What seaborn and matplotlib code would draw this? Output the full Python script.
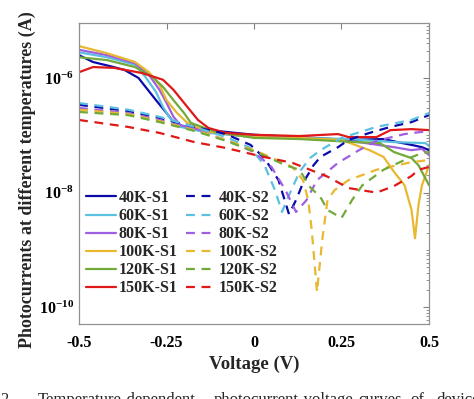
"""
plot.py
-------
Temperature-dependent photocurrent-voltage curves (S1 solid, S2 dashed).
Saves out.png.
"""

import matplotlib.pyplot as plt
import matplotlib.ticker as mticker
import seaborn as sns

# ---- data (voltage in V, current in A) ----
temps = ["40K", "60K", "80K", "100K", "120K", "150K"]
colors = ["#0a0aa8", "#5cc0e0", "#a05ee0", "#e8b830", "#72aa3a", "#e01818"]

# S1 (solid)
v_s1_40 = [-0.5, -0.46, -0.41, -0.37, -0.33, -0.31, -0.28, -0.25, -0.23, -0.2, -0.13, 0.0, 0.13, 0.27, 0.37, 0.41, 0.45, 0.48, 0.5]
i_s1_40 = [2.5e-6, 1.9e-6, 1.6e-6, 1.38e-6, 1.0e-6, 7.0e-7, 4.1e-7, 2.45e-7, 1.7e-7, 1.4e-7, 1.23e-7, 1.02e-7, 9.3e-8, 8.3e-8, 8.6e-8, 7.6e-8, 6.8e-8, 6.2e-8, 5.5e-8]

v_s1_60 = [-0.5, -0.42, -0.34, -0.31, -0.28, -0.26, -0.24, -0.21, -0.13, 0.0, 0.13, 0.27, 0.4, 0.49, 0.5]
i_s1_60 = [2.8e-6, 2.3e-6, 1.7e-6, 1.04e-6, 5.7e-7, 3.1e-7, 2.0e-7, 1.4e-7, 1.1e-7, 9.3e-8, 9.0e-8, 8.6e-8, 7.6e-8, 7.3e-8, 6.5e-8]

v_s1_80 = [-0.5, -0.42, -0.34, -0.3, -0.27, -0.25, -0.23, -0.21, -0.13, 0.0, 0.13, 0.3, 0.4, 0.45, 0.48, 0.5]
i_s1_80 = [3.1e-6, 2.5e-6, 1.8e-6, 1.13e-6, 6.2e-7, 3.7e-7, 2.1e-7, 1.5e-7, 1.15e-7, 9.3e-8, 9.0e-8, 7.6e-8, 6.2e-8, 5.5e-8, 5.8e-8, 4.5e-8]

v_s1_100 = [-0.5, -0.42, -0.34, -0.3, -0.27, -0.25, -0.22, -0.19, -0.13, 0.0, 0.13, 0.25, 0.33, 0.37, 0.4, 0.43, 0.45, 0.46, 0.47, 0.48, 0.5]
i_s1_100 = [3.6e-6, 2.7e-6, 1.9e-6, 1.26e-6, 7.6e-7, 4.1e-7, 2.45e-7, 1.64e-7, 1.15e-7, 9.3e-8, 9.0e-8, 8.3e-8, 5.5e-8, 4.2e-8, 2.3e-8, 1.35e-8, 5.0e-9, 1.6e-9, 6.1e-9, 1.35e-8, 3.0e-8]

v_s1_120 = [-0.5, -0.42, -0.34, -0.29, -0.26, -0.23, -0.2, -0.18, -0.11, 0.0, 0.13, 0.29, 0.36, 0.4, 0.45, 0.47, 0.5]
i_s1_120 = [2.3e-6, 2.05e-6, 1.55e-6, 1.04e-6, 7.0e-7, 4.1e-7, 2.45e-7, 1.64e-7, 1.15e-7, 9.0e-8, 8.6e-8, 7.6e-8, 7.3e-8, 5.1e-8, 4.0e-8, 3.0e-8, 1.35e-8]

v_s1_150 = [-0.5, -0.46, -0.4, -0.32, -0.26, -0.23, -0.19, -0.16, -0.13, -0.08, 0.0, 0.13, 0.24, 0.27, 0.35, 0.39, 0.45, 0.5]
i_s1_150 = [1.26e-6, 1.55e-6, 1.5e-6, 1.22e-6, 9.3e-7, 6.2e-7, 3.1e-7, 1.85e-7, 1.34e-7, 1.1e-7, 1.02e-7, 9.7e-8, 1.05e-7, 9.3e-8, 9.3e-8, 1.23e-7, 1.28e-7, 1.23e-7]

# S2 (dashed)
v_s2_40 = [-0.5, -0.36, -0.27, -0.17, -0.08, -0.01, 0.03, 0.07, 0.1, 0.12, 0.14, 0.17, 0.19, 0.24, 0.27, 0.33, 0.39, 0.45, 0.5]
i_s2_40 = [3.4e-7, 2.65e-7, 2.0e-7, 1.4e-7, 1.05e-7, 6.8e-8, 4.0e-8, 1.65e-8, 4.2e-9, 7.4e-9, 1.47e-8, 3.0e-8, 4.2e-8, 6.2e-8, 8.3e-8, 1.1e-7, 1.4e-7, 1.7e-7, 2.25e-7]

v_s2_60 = [-0.5, -0.36, -0.27, -0.17, -0.08, -0.01, 0.03, 0.06, 0.08, 0.1, 0.13, 0.16, 0.19, 0.25, 0.35, 0.45, 0.5]
i_s2_60 = [3.65e-7, 2.8e-7, 2.1e-7, 1.4e-7, 9.3e-8, 6.0e-8, 3.0e-8, 1.1e-8, 4.6e-9, 9.0e-9, 2.3e-8, 4.0e-8, 5.5e-8, 9.0e-8, 1.4e-7, 1.85e-7, 2.45e-7]

v_s2_80 = [-0.5, -0.36, -0.27, -0.17, -0.08, 0.0, 0.05, 0.09, 0.12, 0.15, 0.18, 0.24, 0.3, 0.35, 0.43, 0.5]
i_s2_80 = [3.0e-7, 2.45e-7, 1.85e-7, 1.23e-7, 8.3e-8, 5.1e-8, 2.8e-8, 1.1e-8, 4.6e-9, 7.4e-9, 1.65e-8, 3.3e-8, 5.5e-8, 8.0e-8, 1.05e-7, 1.19e-7]

v_s2_100 = [-0.5, -0.36, -0.27, -0.17, -0.08, 0.02, 0.11, 0.14, 0.155, 0.165, 0.18, 0.195, 0.21, 0.23, 0.27, 0.35, 0.45, 0.5]
i_s2_100 = [2.8e-7, 2.35e-7, 1.77e-7, 1.23e-7, 8.3e-8, 4.9e-8, 2.8e-8, 1.65e-8, 7.4e-9, 2.2e-9, 1.85e-10, 1.5e-9, 7.4e-9, 1.1e-8, 1.65e-8, 2.5e-8, 3.4e-8, 3.7e-8]

v_s2_120 = [-0.5, -0.36, -0.27, -0.17, -0.08, 0.02, 0.09, 0.13, 0.16, 0.19, 0.21, 0.25, 0.28, 0.31, 0.37, 0.43, 0.48, 0.5]
i_s2_120 = [2.55e-7, 2.25e-7, 1.7e-7, 1.19e-7, 8.0e-8, 4.7e-8, 3.0e-8, 2.5e-8, 1.25e-8, 8.3e-9, 5.0e-9, 3.6e-9, 7.4e-9, 1.35e-8, 2.5e-8, 3.7e-8, 4.9e-8, 5.1e-8]

v_s2_150 = [-0.5, -0.36, -0.27, -0.17, -0.08, 0.02, 0.11, 0.21, 0.27, 0.35, 0.4, 0.45, 0.47, 0.5]
i_s2_150 = [1.85e-7, 1.4e-7, 1.1e-7, 7.6e-8, 6.0e-8, 4.3e-8, 3.3e-8, 1.9e-8, 1.2e-8, 1.0e-8, 1.3e-8, 1.95e-8, 2.5e-8, 2.8e-8]

s1_curves = [(v_s1_40, i_s1_40), (v_s1_60, i_s1_60), (v_s1_80, i_s1_80),
             (v_s1_100, i_s1_100), (v_s1_120, i_s1_120), (v_s1_150, i_s1_150)]
s2_curves = [(v_s2_40, i_s2_40), (v_s2_60, i_s2_60), (v_s2_80, i_s2_80),
             (v_s2_100, i_s2_100), (v_s2_120, i_s2_120), (v_s2_150, i_s2_150)]

x_ticks = [-0.5, -0.25, 0, 0.25, 0.5]
x_tick_labels = ["-0.5", "-0.25", "0", "0.25", "0.5"]
y_ticks = [1e-10, 1e-8, 1e-6]
y_tick_labels = [r"$\mathbf{10^{-10}}$", r"$\mathbf{10^{-8}}$", r"$\mathbf{10^{-6}}$"]

# ---- style ----
sns.set_style("white")
plt.rcParams["font.family"] = ["Liberation Serif", "DejaVu Serif"]
plt.rcParams["font.weight"] = "bold"
plt.rcParams["mathtext.fontset"] = "custom"
plt.rcParams["mathtext.rm"] = "Liberation Serif"
plt.rcParams["mathtext.bf"] = "Liberation Serif:bold"

fig = plt.figure(figsize=(4.74, 3.99), dpi=100)
ax = fig.add_axes([79 / 474, 1 - 324 / 399, 350 / 474, 301 / 399])

for (v, i), t, c in zip(s1_curves, temps, colors):
    sns.lineplot(x=v, y=i, ax=ax, color=c, linewidth=1.6, sort=False,
                 estimator=None, label=f"{t}-S1")
for (v, i), t, c in zip(s2_curves, temps, colors):
    sns.lineplot(x=v, y=i, ax=ax, color=c, linewidth=1.6, sort=False,
                 estimator=None, linestyle=(0, (4, 3)), label=f"{t}-S2")

ax.set_yscale("log")
ax.set_xlim(-0.5, 0.5)
ax.set_ylim(5.1e-11, 9.1e-6)

ax.set_xticks(x_ticks)
ax.set_xticklabels(x_tick_labels)
ax.yaxis.set_major_locator(mticker.FixedLocator(y_ticks))
ax.yaxis.set_major_formatter(mticker.FixedFormatter(y_tick_labels))
ax.yaxis.set_minor_locator(mticker.LogLocator(base=10, subs=range(1, 10), numticks=30))
ax.yaxis.set_minor_formatter(mticker.NullFormatter())

ax.tick_params(which="both", direction="in", top=True, right=True,
               colors="#808080", labelcolor="black", labelsize=11.5)
ax.tick_params(which="major", length=4, width=0.8)
ax.tick_params(axis="x", pad=8)
ax.tick_params(which="minor", length=2, width=0.6)
for s in ax.spines.values():
    s.set_color("#909090")
    s.set_linewidth(0.9)

ax.set_xlabel("Voltage (V)", fontsize=13.5, fontweight="bold", labelpad=3)
ax.set_ylabel("Photocurrents at different temperatures (A)", fontsize=13,
              fontweight="bold", labelpad=2)
ax.yaxis.label.set_y(0.48)

ax.legend(ncol=2, frameon=False, loc="upper left",
          bbox_to_anchor=(0.02, 0.445), fontsize=11.5, handlelength=1.9,
          handletextpad=0.15, columnspacing=0.5, labelspacing=0.13,
          borderpad=0, borderaxespad=0)

# cropped caption below the chart (only its top edge shows)
caption_words = ["2", "Temperature-dependent", "photocurrent-voltage", "curves", "of", "devices"]
caption_x = [0, 38, 214, 358, 410, 436]
for w, xp in zip(caption_words, caption_x):
    fig.text(xp / 474, 1 - 404 / 399, w, fontsize=12, fontweight="normal",
             va="baseline", ha="left")

fig.savefig("out.png", dpi=100)
